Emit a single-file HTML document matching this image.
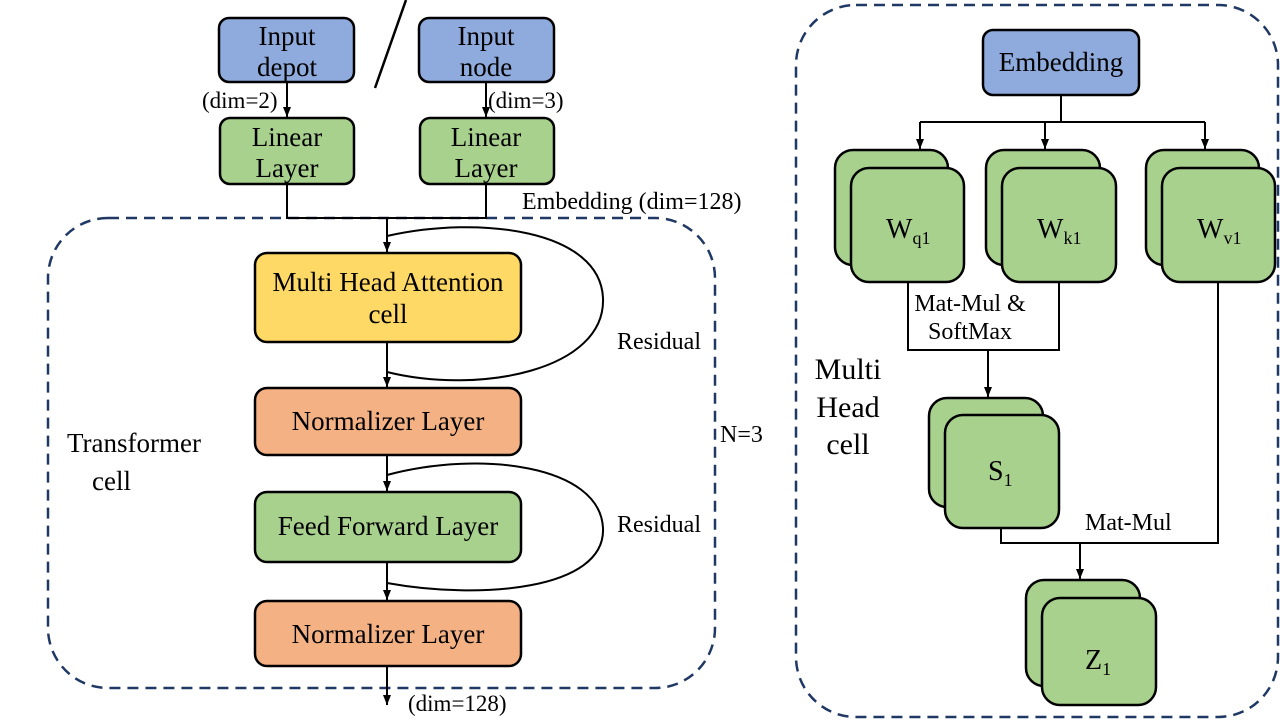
<!DOCTYPE html>
<html><head><meta charset="utf-8"><style>
html,body{margin:0;padding:0;background:#fff;}
svg{display:block;}
text{font-family:"Liberation Serif",serif;fill:#000;}
</style></head><body>
<svg width="1280" height="720" viewBox="0 0 1280 720" xmlns="http://www.w3.org/2000/svg">
<defs>
<marker id="a" markerWidth="12" markerHeight="12" refX="10" refY="5" orient="auto" markerUnits="userSpaceOnUse">
<path d="M0,1 L10,5 L0,9 Z" fill="#000"/>
</marker>
</defs>
<g fill="none" stroke="#203864" stroke-width="2.5" stroke-dasharray="11,7">
<rect x="48" y="218" width="667" height="470" rx="60"/>
<rect x="796" y="5" width="482" height="712" rx="60"/>
</g>
<g stroke="#000" stroke-width="2.5">
<line x1="406" y1="0" x2="375" y2="88"/>
<rect x="219" y="18" width="135" height="64" rx="10" fill="#8faadc"/>
<rect x="419" y="18" width="135" height="64" rx="10" fill="#8faadc"/>
<rect x="220" y="118" width="134" height="66" rx="10" fill="#a9d18e"/>
<rect x="420" y="118" width="134" height="66" rx="10" fill="#a9d18e"/>
<rect x="255" y="253" width="266" height="89" rx="12" fill="#ffd966"/>
<rect x="255" y="388" width="266" height="67" rx="12" fill="#f4b183"/>
<rect x="255" y="492" width="266" height="70" rx="12" fill="#a9d18e"/>
<rect x="255" y="601" width="266" height="65" rx="12" fill="#f4b183"/>
<rect x="983" y="30" width="156" height="65" rx="10" fill="#8faadc"/>
<rect x="835" y="150" width="113" height="115" rx="18" fill="#a9d18e"/>
<rect x="851" y="168" width="113" height="114" rx="18" fill="#a9d18e"/>
<rect x="986" y="150" width="114" height="115" rx="18" fill="#a9d18e"/>
<rect x="1002" y="168" width="114" height="114" rx="18" fill="#a9d18e"/>
<rect x="1146" y="150" width="113" height="115" rx="18" fill="#a9d18e"/>
<rect x="1162" y="168" width="113" height="114" rx="18" fill="#a9d18e"/>
<rect x="929" y="398" width="114" height="109" rx="18" fill="#a9d18e"/>
<rect x="945" y="415" width="114" height="113" rx="18" fill="#a9d18e"/>
<rect x="1026" y="580" width="114" height="106" rx="18" fill="#a9d18e"/>
<rect x="1042" y="598" width="114" height="107" rx="18" fill="#a9d18e"/>
</g>
<g stroke="#000" stroke-width="2" fill="none">
<line x1="287" y1="82" x2="287" y2="117" marker-end="url(#a)"/>
<line x1="486" y1="82" x2="486" y2="117" marker-end="url(#a)"/>
<polyline points="287,184 287,218 486,218 486,184"/>
<line x1="387" y1="218" x2="387" y2="252" marker-end="url(#a)"/>
<path d="M387,236 C480,215 600,230 603,298 C606,370 480,395 387,372"/>
<line x1="387" y1="342" x2="387" y2="387" marker-end="url(#a)"/>
<line x1="387" y1="455" x2="387" y2="491" marker-end="url(#a)"/>
<path d="M387,475 C480,450 600,465 603,528 C606,590 480,600 387,583"/>
<line x1="387" y1="562" x2="387" y2="600" marker-end="url(#a)"/>
<line x1="387" y1="666" x2="387" y2="705" marker-end="url(#a)"/>
<polyline points="1061,95 1061,122"/>
<line x1="920" y1="122" x2="1205" y2="122"/>
<line x1="920" y1="122" x2="920" y2="149" marker-end="url(#a)"/>
<line x1="1045" y1="122" x2="1045" y2="149" marker-end="url(#a)"/>
<line x1="1205" y1="122" x2="1205" y2="149" marker-end="url(#a)"/>
<polyline points="908,282 908,350 1059,350 1059,282"/>
<line x1="988" y1="350" x2="988" y2="397" marker-end="url(#a)"/>
<polyline points="1001,528 1001,543 1218,543 1218,282"/>
<line x1="1080" y1="543" x2="1080" y2="579" marker-end="url(#a)"/>
</g>
<g font-size="27" text-anchor="middle">
<text x="287" y="45">Input</text><text x="287" y="76">depot</text>
<text x="486" y="45">Input</text><text x="486" y="76">node</text>
<text x="287" y="146">Linear</text><text x="287" y="177">Layer</text>
<text x="388" y="291">Multi Head Attention</text><text x="388" y="323">cell</text>
<text x="388" y="430">Normalizer Layer</text>
<text x="388" y="535">Feed Forward Layer</text>
<text x="388" y="643">Normalizer Layer</text>
<text x="1061" y="71">Embedding</text>
<text x="486" y="146">Linear</text><text x="486" y="177">Layer</text>
</g>
<g font-size="23">
<text x="202" y="108">(dim=2)</text>
<text x="488" y="108">(dim=3)</text>
<text x="408" y="711">(dim=128)</text>
</g>
<g font-size="24">
<text x="522" y="209">Embedding (dim=128)</text>
<text x="617" y="349">Residual</text>
<text x="617" y="532">Residual</text>
<text x="720" y="442">N=3</text>
<text x="970" y="311" text-anchor="middle">Mat-Mul &amp;</text>
<text x="970" y="339" text-anchor="middle">SoftMax</text>
<text x="1085" y="530">Mat-Mul</text>
</g>
<g font-size="27">
<text x="67" y="452">Transformer</text>
<text x="92" y="490">cell</text>
</g>
<g font-size="30" text-anchor="middle">
<text x="848" y="379">Multi</text>
<text x="848" y="417">Head</text>
<text x="848" y="454">cell</text>
</g>
<g font-size="28">
<text x="886" y="238">W<tspan font-size="18" dy="6">q1</tspan></text>
<text x="1037" y="238">W<tspan font-size="18" dy="6">k1</tspan></text>
<text x="1197" y="238">W<tspan font-size="18" dy="6">v1</tspan></text>
<text x="988" y="480">S<tspan font-size="18" dy="6">1</tspan></text>
<text x="1085" y="669">Z<tspan font-size="18" dy="6">1</tspan></text>
</g>
</svg>
</body></html>
